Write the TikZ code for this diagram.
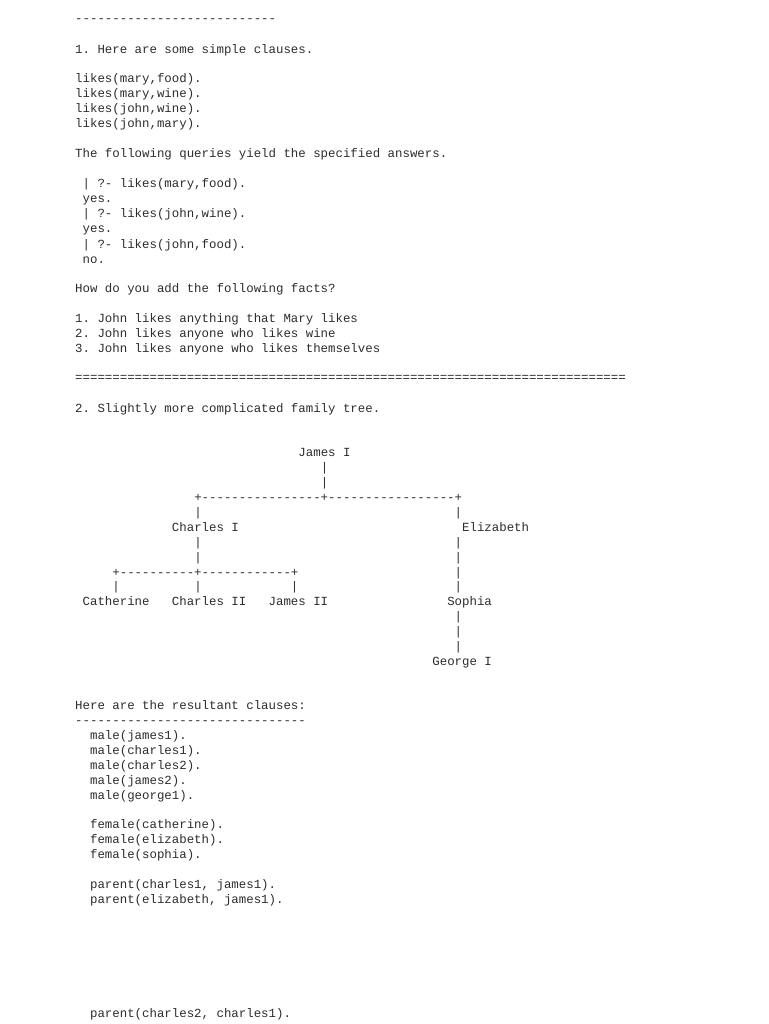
\documentclass[tikz,border=0pt]{standalone}
\usepackage{fontspec}
\setmonofont{Liberation Mono}
\definecolor{ink}{RGB}{45,45,45}
\begin{document}
\begin{tikzpicture}[x=1pt,y=-1pt,
  ln/.style={anchor=base west,inner sep=0pt,text=ink,font=\ttfamily\fontsize{12.4pt}{14pt}\selectfont}]
\useasboundingbox (0,0) rectangle (768,1024);
\fill[white] (0,0) rectangle (768,1024);
\foreach \y/\t [count=\i] in {
 19/{---------------------------},
 50/{1. Here are some simple clauses.},
 79/{likes(mary,food).},
 94/{likes(mary,wine).},
 109/{likes(john,wine).},
 124/{likes(john,mary).},
 154/{The following queries yield the specified answers.},
 184/{~|~?-~likes(mary,food).},
 199/{~yes.},
 214/{~|~?-~likes(john,wine).},
 229/{~yes.},
 244/{~|~?-~likes(john,food).},
 259/{~no.},
 288/{How do you add the following facts?},
 318/{1. John likes anything that Mary likes},
 333/{2. John likes anyone who likes wine},
 348/{3. John likes anyone who likes themselves},
 377/{==========================================================================},
 408/{2. Slightly more complicated family tree.},
 452/{~~~~~~~~~~~~~~~~~~~~~~~~~~~~~~James~I},
 467/{~~~~~~~~~~~~~~~~~~~~~~~~~~~~~~~~~|},
 482/{~~~~~~~~~~~~~~~~~~~~~~~~~~~~~~~~~|},
 497/{~~~~~~~~~~~~~~~~+----------------+-----------------+},
 512/{~~~~~~~~~~~~~~~~|~~~~~~~~~~~~~~~~~~~~~~~~~~~~~~~~~~|},
 527/{~~~~~~~~~~~~~Charles~I~~~~~~~~~~~~~~~~~~~~~~~~~~~~~~Elizabeth},
 542/{~~~~~~~~~~~~~~~~|~~~~~~~~~~~~~~~~~~~~~~~~~~~~~~~~~~|},
 557/{~~~~~~~~~~~~~~~~|~~~~~~~~~~~~~~~~~~~~~~~~~~~~~~~~~~|},
 572/{~~~~~+----------+------------+~~~~~~~~~~~~~~~~~~~~~|},
 586/{~~~~~|~~~~~~~~~~|~~~~~~~~~~~~|~~~~~~~~~~~~~~~~~~~~~|},
 601/{~Catherine~~~Charles~II~~~James~II~~~~~~~~~~~~~~~~Sophia},
 616/{~~~~~~~~~~~~~~~~~~~~~~~~~~~~~~~~~~~~~~~~~~~~~~~~~~~|},
 631/{~~~~~~~~~~~~~~~~~~~~~~~~~~~~~~~~~~~~~~~~~~~~~~~~~~~|},
 646/{~~~~~~~~~~~~~~~~~~~~~~~~~~~~~~~~~~~~~~~~~~~~~~~~~~~|},
 661/{~~~~~~~~~~~~~~~~~~~~~~~~~~~~~~~~~~~~~~~~~~~~~~~~George~I},
 705/{Here are the resultant clauses:},
 720/{-------------------------------},
 735/{~~male(james1).},
 750/{~~male(charles1).},
 765/{~~male(charles2).},
 780/{~~male(james2).},
 795/{~~male(george1).},
 824/{~~female(catherine).},
 839/{~~female(elizabeth).},
 854/{~~female(sophia).},
 884/{~~parent(charles1, james1).},
 899/{~~parent(elizabeth, james1).},
 1013/{~~parent(charles2, charles1).}}
  \node[ln] (line\i) at (75,\y+4) {\t};
\end{tikzpicture}
\end{document}
